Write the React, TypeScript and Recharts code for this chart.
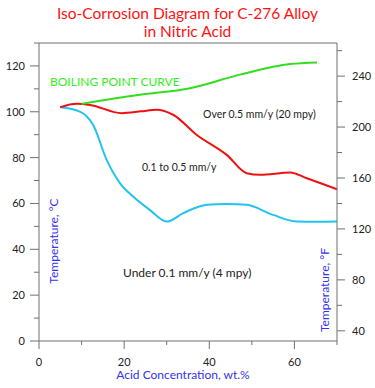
import React from 'react';
import { LineChart, Line, XAxis, YAxis, ReferenceLine } from 'recharts';

// values (acid wt.% vs temperature °C)
const under01Acid = [5, 9.6, 12.7, 15.9, 19, 22.1, 26, 30, 33.9, 39.4, 44, 48.8, 55, 60.6, 65, 70];
const under01Temp = [102, 100.1, 94.3, 79, 68.9, 63, 57.2, 52.1, 55.8, 59.4, 59.8, 59.4, 55, 52.1, 52, 52.1];

const over05Acid = [5, 8.8, 12, 19.4, 24, 27.6, 31.5, 37, 44.1, 48.8, 51.9, 59, 62.9, 70];
const over05Temp = [102, 103.5, 103, 99.4, 100.2, 100.9, 98.7, 90, 81.2, 73.2, 72.5, 73.5, 71, 66.2];

const boilingAcid = [10, 23.7, 35.5, 47.2, 59, 65.3];
const boilingTemp = [103.5, 107.4, 110.3, 116.2, 120.8, 121.5];

const xTicks = [0, 10, 20, 30, 40, 50, 60, 70];
const cTicks = [0, 10, 20, 30, 40, 50, 60, 70, 80, 90, 100, 110, 120, 130];
const fTicks = [40, 60, 80, 100, 120, 140, 160, 180, 200, 220, 240, 260];

const zip = (xs: number[], ys: number[]) => xs.map((x, i) => ({ acid: x, temp: ys[i] }));
const toF = (c: number) => 32 + 1.8 * c;

const AXIS = '#707070';
const FONT = 'Lato, "Open Sans", sans-serif';

const LeftTick = (props: any) => {
  const { x, y, payload } = props;
  const major = payload.value % 20 === 0;
  return (
    <g>
      <line x1={x} x2={x - (major ? 9 : 5)} y1={y} y2={y} stroke={AXIS} />
      {major && (
        <text x={x - 14} y={y} dy={4} textAnchor="end" fontSize={11} fill="#222" fontFamily={FONT}>
          {payload.value}
        </text>
      )}
    </g>
  );
};

const RightTick = (props: any) => {
  const { x, y, payload } = props;
  const major = payload.value % 40 === 0;
  return (
    <g>
      <line x1={x} x2={x + (major ? 8 : 5)} y1={y} y2={y} stroke={AXIS} />
      {major && (
        <text x={x + 15} y={y} dy={4} textAnchor="start" fontSize={11} fill="#222" fontFamily={FONT}>
          {payload.value}
        </text>
      )}
    </g>
  );
};

const BottomTick = (props: any) => {
  const { x, y, payload } = props;
  const major = payload.value % 20 === 0;
  return (
    <g>
      <line x1={x} x2={x} y1={y} y2={y + (major ? 8 : 4)} stroke={AXIS} />
      {major && (
        <text x={x} y={y + 25} textAnchor="middle" fontSize={11} fill="#222" fontFamily={FONT}>
          {payload.value}
        </text>
      )}
    </g>
  );
};

const textStyle = (left: number, top: number, color: string, size: number): React.CSSProperties => ({
  position: 'absolute',
  left,
  top,
  color,
  fontSize: size,
  fontFamily: FONT,
  whiteSpace: 'nowrap',
  lineHeight: 1,
});

export default function App() {
  return (
    <div style={{ position: 'absolute', left: 0, top: 0, width: 375, height: 388, background: '#fff' }}>
      <LineChart width={375} height={388} margin={{ top: 43, right: 0, bottom: 0, left: 0 }}>
        <XAxis
          dataKey="acid"
          type="number"
          domain={[0, 70]}
          ticks={xTicks}
          interval={0}
          tick={<BottomTick />}
          tickLine={false}
          tickSize={0}
          tickMargin={0}
          height={47}
          stroke={AXIS}
          allowDuplicatedCategory={false}
        />
        <YAxis
          yAxisId="c"
          type="number"
          domain={[0, 130]}
          ticks={cTicks}
          interval={0}
          tick={<LeftTick />}
          tickLine={false}
          tickSize={0}
          tickMargin={0}
          width={39}
          stroke={AXIS}
        />
        <YAxis
          yAxisId="f"
          orientation="right"
          type="number"
          domain={[32, 266]}
          ticks={fTicks}
          interval={0}
          tick={<RightTick />}
          tickLine={false}
          tickSize={0}
          tickMargin={0}
          width={38}
          stroke={AXIS}
          allowDataOverflow
        />
        <ReferenceLine yAxisId="c" y={130} stroke={AXIS} />
        {/* invisible copy of the boiling curve in °F so the right axis is drawn */}
        <Line
          yAxisId="f"
          data={zip(boilingAcid, boilingTemp.map(toF))}
          dataKey="temp"
          stroke="none"
          dot={false}
          activeDot={false}
          legendType="none"
          isAnimationActive={false}
        />
        <Line
          yAxisId="c"
          data={zip(under01Acid, under01Temp)}
          dataKey="temp"
          type="monotone"
          stroke="#22c3ee"
          strokeWidth={2}
          dot={false}
          isAnimationActive={false}
        />
        <Line
          yAxisId="c"
          data={zip(over05Acid, over05Temp)}
          dataKey="temp"
          type="monotone"
          stroke="#ee1111"
          strokeWidth={2}
          dot={false}
          isAnimationActive={false}
        />
        <Line
          yAxisId="c"
          data={zip(boilingAcid, boilingTemp)}
          dataKey="temp"
          type="monotone"
          stroke="#33dd22"
          strokeWidth={2}
          dot={false}
          isAnimationActive={false}
        />
      </LineChart>

      <div style={{ ...textStyle(0, 6, '#ff1111', 15.5), width: 375, textAlign: 'center' }}>
        Iso-Corrosion Diagram for C-276 Alloy
      </div>
      <div style={{ ...textStyle(0, 24, '#ff1111', 15.5), width: 375, textAlign: 'center' }}>
        in Nitric Acid
      </div>
      <div style={textStyle(50, 76, '#33ee22', 12)}>BOILING POINT CURVE</div>
      <div style={textStyle(203, 109, '#222', 10.5)}>Over 0.5 mm/y (20 mpy)</div>
      <div style={textStyle(142, 162, '#222', 10.5)}>0.1 to 0.5 mm/y</div>
      <div style={textStyle(123, 267, '#222', 12)}>Under 0.1 mm/y (4 mpy)</div>
      <div style={{ ...textStyle(183, 369, '#3333ee', 12), transform: 'translateX(-50%)' }}>
        Acid Concentration, wt.%
      </div>
      <div
        style={{
          ...textStyle(54, 241, '#3333ee', 12),
          transform: 'translate(-50%, -50%) rotate(-90deg)',
        }}
      >
        Temperature, °C
      </div>
      <div
        style={{
          ...textStyle(325, 290, '#3333ee', 12),
          transform: 'translate(-50%, -50%) rotate(-90deg)',
        }}
      >
        Temperature, °F
      </div>
    </div>
  );
}
